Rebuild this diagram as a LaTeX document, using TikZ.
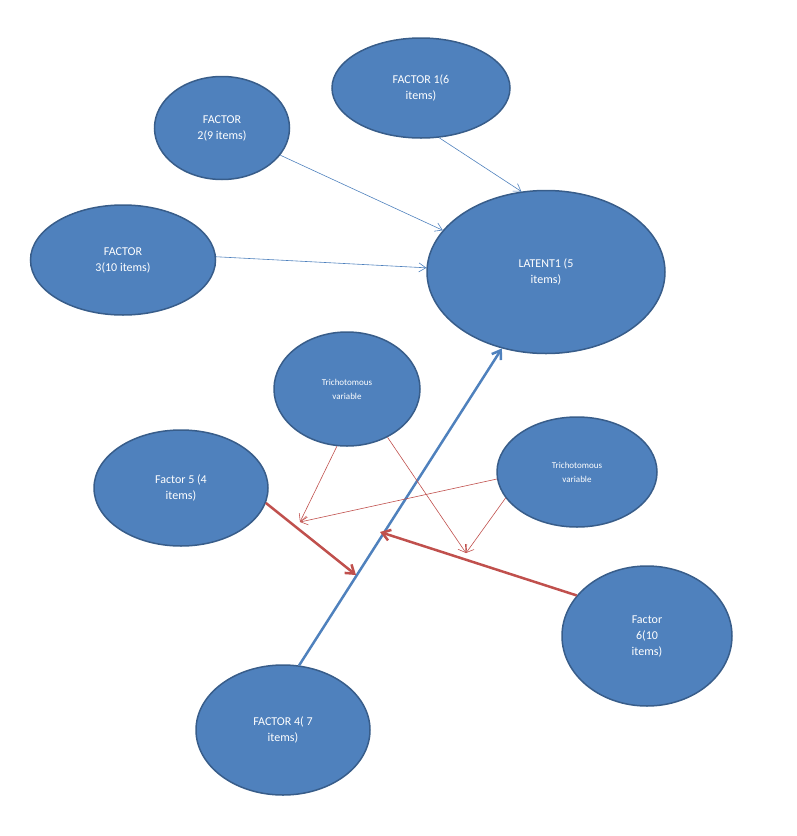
\documentclass[tikz,border=0pt]{standalone}
\usepackage{fontspec}
\setmainfont{Carlito}
\usetikzlibrary{arrows.meta,shapes.geometric}
\definecolor{MyFill}{HTML}{4F81BD}
\definecolor{MyLine}{HTML}{385D8A}
\definecolor{MyRed}{HTML}{C0504D}
\tikzset{%
  factor/.style={ellipse,draw=MyLine,fill=MyFill,line width=1.5pt,text=white,align=center,inner sep=0pt,font=\fontsize{12}{16}\selectfont},
  link/.style={-{Straight Barb[length=7pt,width=9pt]},draw=MyFill,semithick},
  big link/.style={-{Straight Barb[length=8pt,width=11pt]},draw=MyFill,line width=2.5pt},
  red link/.style={-{Straight Barb[length=7pt,width=9pt]},draw=MyRed,semithick},
  red big/.style={-{Straight Barb[length=8pt,width=11pt]},draw=MyRed,line width=2.5pt}
}
\begin{document}
\begin{tikzpicture}[x=1pt,y=-1pt]
 \useasboundingbox (0,0) rectangle (796,836);

 \node[factor,minimum width=178pt,minimum height=100pt] (f1) at (421,88) {FACTOR 1(6\\items)};
 \node[factor,minimum width=135pt,minimum height=103pt] (f2) at (222,128) {FACTOR\\2(9 items)};
 \node[factor,minimum width=185pt,minimum height=110pt] (f3) at (123,260) {FACTOR\\3(10 items)};
 \node[factor,minimum width=238pt,minimum height=163pt] (lat) at (546,272) {LATENT1 (5\\items)};
 \node[factor,minimum width=146pt,minimum height=114pt,font=\fontsize{9}{14}\selectfont] (t1) at (347,389) {Trichotomous\\variable};
 \node[factor,minimum width=160pt,minimum height=110pt,font=\fontsize{9}{14}\selectfont] (t2) at (577,472) {Trichotomous\\variable};
 \node[factor,minimum width=174pt,minimum height=116pt] (f5) at (181,488) {Factor 5 (4\\items)};
 \node[factor,minimum width=170pt,minimum height=140pt] (f6) at (647,636) {Factor\\6(10\\items)};
 \node[factor,minimum width=174pt,minimum height=130pt] (f4) at (283,730) {FACTOR 4( 7\\items)};

 \coordinate (p5) at (356,575);
 \coordinate (p6) at (380,532);
 \coordinate (q5) at (300,522);
 \coordinate (q6) at (466,553);

 \draw[link] (f1.-70) -- (lat.107);
 \draw[link] (f2.-25) -- (lat.158);
 \draw[link] (f3.2) -- (lat.178);
 \draw[big link] (f4.76) -- (lat.-120);

 \draw[red big] (f5.-10) -- (p5);
 \draw[red big] (f6.150) -- (p6);

 \draw[red link] (t1.-100) -- (q5);
 \draw[red link] (t1.-50) -- (q6);
 \draw[red link] (t2.185) -- (q5);
 \draw[red link] (t2.200) -- (q6);
\end{tikzpicture}
\end{document}
